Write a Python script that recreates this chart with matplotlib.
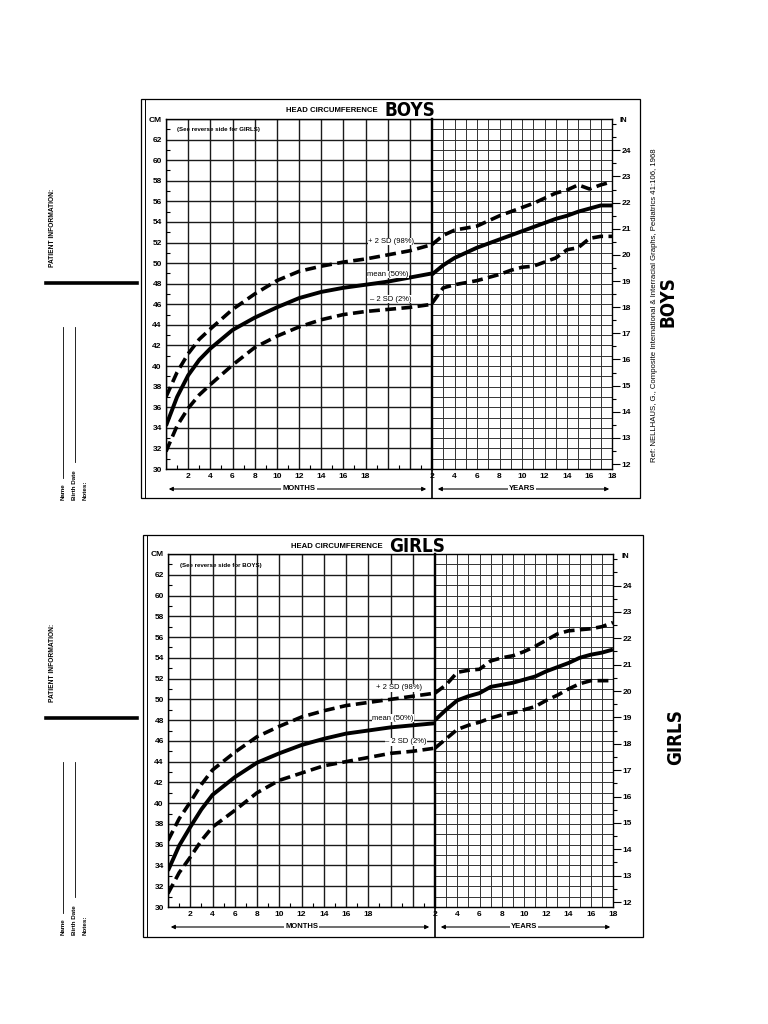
import matplotlib.pyplot as plt
from matplotlib.patches import Rectangle
from matplotlib.ticker import MultipleLocator
from matplotlib import font_manager

plt.rcParams['font.family'] = ['Liberation Sans', 'DejaVu Sans']

W, H = 768, 1024

# ---------------------------------------------------------
# data (cm)
# ---------------------------------------------------------
months = [0, 1, 2, 3, 4, 6, 8, 10, 12, 14, 16, 18, 20, 22, 24]
years = [2, 3, 4, 5, 6, 7, 8, 9, 10, 11, 12, 13, 14, 15, 16, 17, 18]

boys_plus_m = [37.0, 39.4, 41.2, 42.6, 43.6, 45.5, 47.0, 48.3, 49.2, 49.7, 50.1, 50.4, 50.8, 51.2, 51.8]
boys_mean_m = [34.2, 37.0, 39.1, 40.6, 41.7, 43.5, 44.7, 45.7, 46.6, 47.2, 47.6, 47.9, 48.2, 48.6, 49.0]
boys_minus_m = [31.7, 34.2, 35.9, 37.2, 38.2, 40.1, 41.8, 42.9, 43.8, 44.5, 45.0, 45.3, 45.5, 45.7, 46.0]
boys_plus_y = [51.8, 52.7, 53.2, 53.4, 53.6, 54.1, 54.6, 55.0, 55.4, 55.8, 56.3, 56.8, 57.1, 57.6, 57.2, 57.6, 57.9]
boys_mean_y = [48.9, 49.8, 50.5, 51.0, 51.5, 51.9, 52.3, 52.7, 53.1, 53.5, 53.9, 54.3, 54.6, 55.0, 55.3, 55.6, 55.6]
boys_minus_y = [46.1, 47.6, 47.9, 48.1, 48.3, 48.6, 48.9, 49.3, 49.6, 49.7, 50.1, 50.5, 51.3, 51.5, 52.4, 52.6, 52.6]

girls_plus_m = [36.4, 38.5, 40.1, 41.8, 43.2, 44.9, 46.4, 47.4, 48.3, 48.9, 49.4, 49.7, 50.0, 50.3, 50.6]
girls_mean_m = [33.5, 35.9, 37.7, 39.4, 40.8, 42.5, 43.9, 44.8, 45.6, 46.2, 46.7, 47.0, 47.3, 47.5, 47.7]
girls_minus_m = [31.3, 33.3, 34.8, 36.4, 37.7, 39.3, 41.0, 42.2, 42.9, 43.6, 44.0, 44.4, 44.8, 45.0, 45.3]
girls_plus_y = [50.6, 51.4, 52.6, 52.8, 52.9, 53.7, 54.0, 54.2, 54.6, 55.1, 55.7, 56.3, 56.6, 56.7, 56.8, 57.0, 57.4]
girls_mean_y = [48.0, 49.0, 49.9, 50.3, 50.6, 51.2, 51.4, 51.6, 51.9, 52.2, 52.7, 53.1, 53.5, 54.0, 54.3, 54.5, 54.8]
girls_minus_y = [45.3, 46.2, 47.1, 47.5, 47.8, 48.2, 48.5, 48.7, 49.0, 49.3, 49.9, 50.4, 51.0, 51.5, 51.8, 51.8, 51.8]

curve_labels = ['+ 2 SD (98%)', 'mean (50%)', '\u2013 2 SD (2%)']

# narrow face for the big BOYS / GIRLS words, if one is installed
NARROW = dict(family='DejaVu Sans', fontstretch='condensed')
for f in font_manager.fontManager.ttflist:
    if f.name == 'Liberation Sans Narrow':
        NARROW = dict(family='Liberation Sans Narrow')
        break

fig = plt.figure(figsize=(W / 100, H / 100), dpi=100)
fig.patch.set_facecolor('white')

# overlay in pixel coordinates for frames and free text
ov = fig.add_axes([0, 0, 1, 1])
ov.set_xlim(0, W)
ov.set_ylim(H, 0)
ov.axis('off')


def px_axes(x0, y0, x1, y1):
    return fig.add_axes([x0 / W, 1 - y1 / H, (x1 - x0) / W, (y1 - y0) / H])


DASH = (0, (3.0, 1.5))


def draw_chart(box, frame, plus_m, mean_m, minus_m, plus_y, mean_y, minus_y, label_xy):
    x0, y0, xd, x1, y1 = box
    axm = px_axes(x0, y0, xd, y1)
    axy = px_axes(xd, y0, x1, y1)
    for ax in (axm, axy):
        ax.set_ylim(30, 64)
        ax.set_facecolor('none')
        ax.set_axisbelow(True)
        for s in ax.spines.values():
            s.set_linewidth(1.0)

    # --- months part ---
    axm.set_xlim(0, 24)
    axm.set_xticks(range(0, 25, 2), [str(m) if 2 <= m <= 18 else '' for m in range(0, 25, 2)])
    axm.xaxis.set_minor_locator(MultipleLocator(1))
    axm.set_yticks(range(30, 65, 2), [str(v) for v in range(30, 63, 2)] + ['CM'])
    axm.yaxis.set_minor_locator(MultipleLocator(1))
    axm.tick_params(which='major', length=0, labelsize=6, pad=3)
    axm.tick_params(which='minor', direction='in', length=3, width=0.8)
    for lab in axm.get_xticklabels() + axm.get_yticklabels():
        lab.set_fontweight('bold')
    axm.grid(True, which='major', color='#1a1a1a', lw=1.0)
    axm.spines['right'].set_linewidth(1.6)

    kw = dict(color='k', solid_joinstyle='round', dash_joinstyle='round')
    axm.plot(months, plus_m, lw=2.6, ls=DASH, **kw)
    axm.plot(months, mean_m, lw=2.8, solid_capstyle='butt', **kw)
    axm.plot(months, minus_m, lw=2.6, ls=DASH, **kw)
    for txt, (lx, ly) in zip(curve_labels, label_xy):
        axm.text(lx, ly, txt, fontsize=5.5, ha='center', va='center',
                 bbox=dict(fc='white', ec='none', pad=0.3))

    # --- years part ---
    axy.set_xlim(2, 18)
    axy.set_xticks(range(2, 19, 2), [str(v) for v in range(2, 19, 2)])
    axy.xaxis.set_minor_locator(MultipleLocator(1))
    axy.set_yticks(range(30, 65, 2))
    axy.yaxis.set_minor_locator(MultipleLocator(1))
    axy.tick_params(which='both', length=0, labelleft=False, labelsize=6, pad=3)
    for lab in axy.get_xticklabels():
        lab.set_fontweight('bold')
    axy.grid(True, which='both', color='#333333', lw=0.7)
    axy.spines['left'].set_linewidth(1.6)

    axy.plot(years, plus_y, lw=2.6, ls=DASH, **kw)
    axy.plot(years, mean_y, lw=2.8, solid_capstyle='butt', **kw)
    axy.plot(years, minus_y, lw=2.6, ls=DASH, **kw)

    sec = axy.secondary_yaxis('right', functions=(lambda c: c / 2.54, lambda i: i * 2.54))
    sec.set_yticks(range(12, 25))
    sec.yaxis.set_minor_locator(MultipleLocator(0.5))
    sec.tick_params(which='major', direction='out', length=6, width=0.8, labelsize=6, pad=1)
    sec.tick_params(which='minor', direction='out', length=3, width=0.8)
    sec.spines['right'].set_visible(False)
    for lab in sec.get_yticklabels():
        lab.set_fontweight('bold')
    ov.text(x1 + 8, y0 + 2, 'IN', fontsize=5.5, fontweight='bold', ha='left', va='center')

    # frame, divider, arrows
    fx0, fy0, fx1, fy1 = frame
    ov.add_patch(Rectangle((fx0, fy0), fx1 - fx0, fy1 - fy0, fill=False, ec='k', lw=0.9))
    ov.plot([fx0 + 3.5, fx0 + 3.5], [fy0, fy1], color='k', lw=0.7)
    ov.plot([xd, xd], [y1, fy1], color='k', lw=1.2)
    ay = y1 + 20
    ov.annotate('', xy=(x0, ay), xytext=(xd - 3, ay),
                arrowprops=dict(arrowstyle='<|-|>', color='k', lw=0.8, mutation_scale=6))
    ov.text((x0 + xd) / 2, ay, 'MONTHS', fontsize=5.5, fontweight='bold', ha='center', va='center',
            bbox=dict(fc='white', ec='none', pad=0.8))
    ov.annotate('', xy=(xd + 3, ay), xytext=(x1, ay),
                arrowprops=dict(arrowstyle='<|-|>', color='k', lw=0.8, mutation_scale=6))
    ov.text((xd + x1) / 2, ay, 'YEARS', fontsize=5.5, fontweight='bold', ha='center', va='center',
            bbox=dict(fc='white', ec='none', pad=0.8))


def patient_info(dy):
    ov.text(52, 228 + dy, 'PATIENT INFORMATION:', rotation=90, fontsize=4.8, fontweight='bold',
            ha='center', va='center')
    ov.plot([46, 137], [283 + dy, 283 + dy], color='k', lw=2.6)
    ov.plot([63, 63], [327 + dy, 478 + dy], color='k', lw=0.6)
    ov.plot([75, 75], [327 + dy, 462 + dy], color='k', lw=0.6)
    ov.text(63, 500 + dy, 'Name', rotation=90, fontsize=4.5, fontweight='bold', ha='center', va='bottom')
    ov.text(74, 500 + dy, 'Birth Date', rotation=90, fontsize=4.5, fontweight='bold', ha='center', va='bottom')
    ov.text(85, 500 + dy, 'Notes:', rotation=90, fontsize=4.5, fontweight='bold', ha='center', va='bottom')


# ---------------------------------------------------------
# BOYS
# ---------------------------------------------------------
draw_chart((166, 119, 432, 612, 469), (141, 99, 640, 498),
           boys_plus_m, boys_mean_m, boys_minus_m, boys_plus_y, boys_mean_y, boys_minus_y,
           [(20.3, 52.1), (20.0, 48.9), (20.3, 46.5)])
ov.text(332, 111, 'HEAD CIRCUMFERENCE', fontsize=5.6, fontweight='bold', ha='center', va='center')
ov.text(410, 111, 'BOYS', fontsize=13.5, fontweight='bold', ha='center', va='center', **NARROW)
ov.text(177, 130, '(See reverse side for GIRLS)', fontsize=4.4, fontweight='bold', ha='left', va='center')
ov.text(655, 305, 'Ref: NELLHAUS, G., Composite International & Interracial Graphs, Pediatrics 41:106, 1968',
        rotation=90, fontsize=5.6, ha='center', va='center')
ov.text(668, 302, 'BOYS', rotation=90, fontsize=13.5, fontweight='bold', ha='center', va='center', **NARROW)
patient_info(0)

# ---------------------------------------------------------
# GIRLS
# ---------------------------------------------------------
draw_chart((168, 554, 435, 613, 907), (143, 535, 643, 937),
           girls_plus_m, girls_mean_m, girls_minus_m, girls_plus_y, girls_mean_y, girls_minus_y,
           [(20.8, 51.1), (20.2, 48.2), (21.4, 45.9)])
ov.text(337, 546, 'HEAD CIRCUMFERENCE', fontsize=5.6, fontweight='bold', ha='center', va='center')
ov.text(417, 546, 'GIRLS', fontsize=13.5, fontweight='bold', ha='center', va='center', **NARROW)
ov.text(180, 565, '(See reverse side for BOYS)', fontsize=4.4, fontweight='bold', ha='left', va='center')
ov.text(676, 737, 'GIRLS', rotation=90, fontsize=13.5, fontweight='bold', ha='center', va='center', **NARROW)
patient_info(435)

fig.savefig('out.png', dpi=100)
